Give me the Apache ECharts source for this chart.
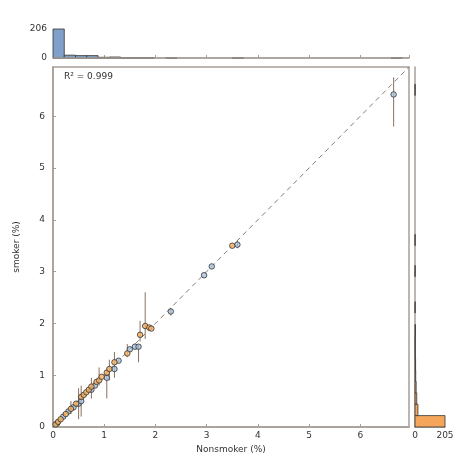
<!DOCTYPE html><html><head><meta charset="utf-8"><script src="https://cdn.jsdelivr.net/npm/echarts@6/dist/echarts.min.js"></script></head><body style="margin:0"><div id="c" style="width:474px;height:474px"></div><script>
const orangePts=[[0.05,0.05],[0.1,0.1],[0.15,0.15],[0.25,0.25],[0.35,0.35],[0.45,0.45],[0.55,0.58],[0.6,0.62],[0.65,0.67],[0.7,0.72],[0.75,0.78],[0.85,0.87],[0.9,0.9],[0.95,0.97],[1.05,1.05],[1.1,1.12],[1.2,1.25],[1.45,1.42],[1.7,1.78],[1.8,1.95],[1.88,1.92],[1.92,1.9],[3.5,3.5]];
const bluePts=[[0.08,0.07],[0.2,0.2],[0.3,0.3],[0.4,0.38],[0.5,0.45],[0.55,0.5],[0.75,0.72],[0.82,0.8],[1.05,0.95],[1.2,1.12],[1.28,1.28],[1.5,1.5],[1.6,1.55],[1.67,1.55],[2.3,2.23],[2.95,2.93],[3.1,3.1],[3.6,3.52],[6.65,6.42]];
const errBars=[[1.8,1.7,2.6],[6.65,5.8,6.75],[1.05,0.55,1.1],[0.5,0.15,0.75],[0.55,0.2,0.8],[1.67,1.25,1.6],[1.2,0.95,1.45],[0.9,0.8,1.15],[0.75,0.55,0.95],[1.45,1.35,1.6],[1.7,1.65,2.05],[1.1,0.9,1.3],[0.35,0.25,0.5],[2.3,2.15,2.3],[3.6,3.45,3.6]];
const topBins=[[0,0.22,206],[0.22,0.44,20],[0.44,0.66,17],[0.66,0.88,17],[0.88,1.1,5],[1.1,1.32,7],[1.32,1.54,2],[1.54,1.76,2],[1.76,1.98,2],[2.2,2.42,1],[3.5,3.72,1],[6.6,6.82,1]];
const rightBins=[[0,0.22,205],[0.22,0.44,20],[0.44,0.66,12],[0.66,0.88,8],[0.88,1.1,5],[1.1,1.32,4],[1.32,1.54,2],[1.54,1.76,2],[1.76,1.98,3],[2.2,2.42,1],[2.9,3.12,1],[3.5,3.72,1],[6.4,6.62,1]];
const MAX=6.95, frame='#a89e96', tc='#333';
const lab={color:tc,fontSize:9,fontFamily:'DejaVu Sans'};
function rect(hor,fill){return function(p,api){const a=api.value(0),b=api.value(1),n=api.value(2);let p1,p2;
 if(hor){p1=api.coord([a,0]);p2=api.coord([b,n]);}else{p1=api.coord([0,a]);p2=api.coord([n,b]);}
 return {type:'rect',shape:{x:Math.min(p1[0],p2[0]),y:Math.min(p1[1],p2[1]),width:Math.abs(p2[0]-p1[0]),height:Math.abs(p2[1]-p1[1])},style:{fill:fill,stroke:'#333',lineWidth:0.8}};};}
const ax=(o)=>Object.assign({type:'value',min:0,max:MAX,interval:1,splitLine:{show:false},axisLine:{lineStyle:{color:frame,width:1.5}},axisTick:{inside:true,length:3,lineStyle:{color:frame}},axisLabel:Object.assign({},lab,{showMaxLabel:false})},o);
const opt={animation:false,
grid:[{left:53,top:67,width:356,height:360,show:true,borderColor:frame,borderWidth:1.5},{left:53,top:29,width:356,height:29},{left:415,top:67,width:30,height:360}],
xAxis:[ax({gridIndex:0,name:'Nonsmoker (%)',nameLocation:'middle',nameGap:14,nameTextStyle:lab,axisLabel:Object.assign({},lab,{margin:4,showMaxLabel:false})}),
 ax({gridIndex:1,axisLabel:{show:false}}),
 {type:'value',gridIndex:2,min:0,max:205,interval:205,splitLine:{show:false},axisLine:{lineStyle:{color:frame,width:1.5}},axisTick:{show:false},axisLabel:Object.assign({},lab,{margin:4})}],
yAxis:[ax({gridIndex:0,name:'smoker (%)',nameLocation:'middle',nameGap:32,nameTextStyle:lab,axisLabel:Object.assign({},lab,{margin:8,showMaxLabel:false})}),
 {type:'value',gridIndex:1,min:0,max:206,interval:206,splitLine:{show:false},axisLine:{show:false},axisTick:{show:false},axisLabel:Object.assign({},lab,{margin:6})},
 ax({gridIndex:2,axisLabel:{show:false},axisTick:{show:false}})],
series:[
{type:'line',xAxisIndex:0,yAxisIndex:0,data:[[0,0],[MAX,MAX]],symbol:'none',lineStyle:{color:'#8a7a70',type:[5,4],width:1}},
{type:'custom',xAxisIndex:0,yAxisIndex:0,data:errBars,renderItem:(p,api)=>{const a=api.coord([api.value(0),api.value(1)]),b=api.coord([api.value(0),api.value(2)]);return {type:'line',shape:{x1:a[0],y1:a[1],x2:b[0],y2:b[1]},style:{stroke:'#8a7060',lineWidth:1}};},z:1},
{type:'scatter',xAxisIndex:0,yAxisIndex:0,data:bluePts,symbolSize:5.5,itemStyle:{color:'#a9c2de',borderColor:'#333',borderWidth:1},z:3},
{type:'scatter',xAxisIndex:0,yAxisIndex:0,data:orangePts,symbolSize:5.5,itemStyle:{color:'#f5b060',borderColor:'#333',borderWidth:1},z:3},
{type:'custom',xAxisIndex:1,yAxisIndex:1,data:topBins,renderItem:rect(true,'#7fa0c8')},
{type:'custom',xAxisIndex:2,yAxisIndex:2,data:rightBins,renderItem:rect(false,'#f5a65a')},
{type:'line',xAxisIndex:1,yAxisIndex:1,data:[[0,0],[MAX,0]],symbol:'none',lineStyle:{color:frame,width:1.5}}
],
graphic:[{type:'text',left:64,top:72,style:{text:'R² = 0.999',fill:tc,font:'9px DejaVu Sans'}}]};
echarts.init(document.getElementById('c')).setOption(opt);
</script></body></html>
